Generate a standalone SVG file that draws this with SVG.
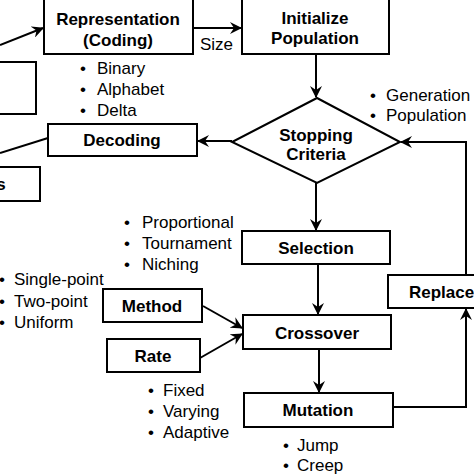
<svg xmlns="http://www.w3.org/2000/svg" width="474" height="474" viewBox="0 0 474 474">
<style>
.box{fill:#fff;stroke:#000;stroke-width:2}
.b{font-family:"Liberation Sans",Arial,sans-serif;font-weight:bold;font-size:17px;fill:#000;text-anchor:middle}
.r{font-family:"Liberation Sans",Arial,sans-serif;font-size:17px;fill:#000}
.c{fill:none;stroke:#000;stroke-width:2}
</style>
<defs>
<marker id="ah" markerWidth="12" markerHeight="12" refX="11" refY="6" orient="auto" markerUnits="userSpaceOnUse">
<path d="M0,0 L12,6 L0,12 L4,6 z" fill="#000"/>
</marker>
</defs>
<rect width="474" height="474" fill="#fff"/>
<g id="connectors">
<line class="c" x1="0" y1="45" x2="43" y2="28" marker-end="url(#ah)"/>
<line class="c" x1="193" y1="28" x2="241" y2="28" marker-end="url(#ah)"/>
<line class="c" x1="316" y1="54" x2="316" y2="97" marker-end="url(#ah)"/>
<line class="c" x1="232" y1="141" x2="198" y2="141" marker-end="url(#ah)"/>
<line class="c" x1="48" y1="138" x2="0" y2="153"/>
<line class="c" x1="316" y1="183" x2="316" y2="230" marker-end="url(#ah)"/>
<line class="c" x1="318" y1="264" x2="318" y2="314" marker-end="url(#ah)"/>
<line class="c" x1="319" y1="349" x2="319" y2="392" marker-end="url(#ah)"/>
<line class="c" x1="203" y1="306" x2="242" y2="328" marker-end="url(#ah)"/>
<line class="c" x1="200" y1="358" x2="242" y2="334" marker-end="url(#ah)"/>
<path class="c" d="M393,407 H466 V309" marker-end="url(#ah)"/>
<path class="c" d="M466,275 V142 H401" marker-end="url(#ah)"/>
</g>
<g id="leftbox1"><rect class="box" x="-4" y="62" width="40" height="52"/></g>
<g id="leftbox2"><rect class="box" x="-4" y="167" width="44" height="34"/><text class="b" x="1" y="190">s</text></g>
<g id="representation">
<rect class="box" x="44" y="-2" width="149" height="56"/>
<text class="b" x="118" y="25">Representation</text>
<text class="b" x="118" y="46">(Coding)</text>
</g>
<text class="r" x="200" y="50">Size</text>
<g id="init">
<rect class="box" x="242" y="-2" width="147" height="56"/>
<text class="b" x="315" y="24">Initialize</text>
<text class="b" x="315" y="44">Population</text>
</g>
<g id="coding-list">
<text class="r" x="80" y="74">•<tspan x="97">Binary</tspan></text>
<text class="r" x="80" y="95">•<tspan x="97">Alphabet</tspan></text>
<text class="r" x="80" y="116">•<tspan x="97">Delta</tspan></text>
</g>
<g id="stop-list">
<text class="r" x="370" y="101">•<tspan x="386">Generation</tspan></text>
<text class="r" x="370" y="121">•<tspan x="386">Population</tspan></text>
</g>
<g id="decoding">
<rect class="box" x="48" y="124" width="149" height="32"/>
<text class="b" x="122" y="146">Decoding</text>
</g>
<g id="stopping">
<polygon class="box" points="317,98 400,142 317,183 232,142"/>
<text class="b" x="316" y="141">Stopping</text>
<text class="b" x="316" y="160">Criteria</text>
</g>
<g id="sel-list">
<text class="r" x="124" y="228">•<tspan x="142">Proportional</tspan></text>
<text class="r" x="124" y="249">•<tspan x="142">Tournament</tspan></text>
<text class="r" x="124" y="270">•<tspan x="142">Niching</tspan></text>
</g>
<g id="selection">
<rect class="box" x="242" y="231" width="148" height="33"/>
<text class="b" x="316" y="254">Selection</text>
</g>
<g id="cross-list">
<text class="r" x="-1" y="285">•<tspan x="14">Single-point</tspan></text>
<text class="r" x="-1" y="307">•<tspan x="14">Two-point</tspan></text>
<text class="r" x="-1" y="328">•<tspan x="14">Uniform</tspan></text>
</g>
<g id="method">
<rect class="box" x="103" y="289" width="99" height="33"/>
<text class="b" x="152" y="312">Method</text>
</g>
<g id="rate">
<rect class="box" x="107" y="339" width="93" height="33"/>
<text class="b" x="153" y="362">Rate</text>
</g>
<g id="replace">
<rect class="box" x="388" y="275" width="90" height="33"/>
<text class="r" x="409" y="298" style="font-weight:bold">Replace</text>
</g>
<g id="crossover">
<rect class="box" x="243" y="315" width="148" height="34"/>
<text class="b" x="317" y="339">Crossover</text>
</g>
<g id="rate-list">
<text class="r" x="148" y="396">•<tspan x="163">Fixed</tspan></text>
<text class="r" x="148" y="417">•<tspan x="163">Varying</tspan></text>
<text class="r" x="148" y="438">•<tspan x="163">Adaptive</tspan></text>
</g>
<g id="mutation">
<rect class="box" x="244" y="393" width="149" height="34"/>
<text class="b" x="318" y="416">Mutation</text>
</g>
<g id="mut-list">
<text class="r" x="283" y="451">•<tspan x="297">Jump</tspan></text>
<text class="r" x="283" y="471">•<tspan x="297">Creep</tspan></text>
</g>
</svg>
